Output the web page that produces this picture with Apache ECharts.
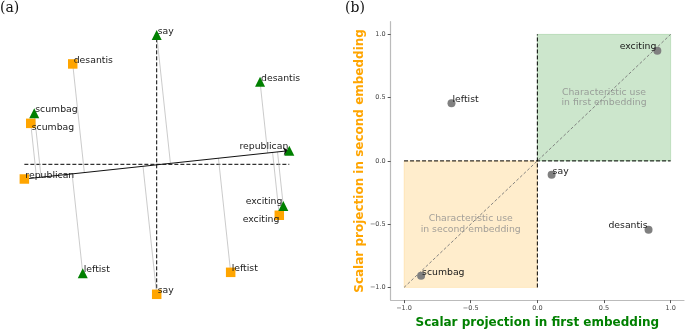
<!DOCTYPE html>
<html>
<head>
<meta charset="utf-8">
<script src="https://cdn.jsdelivr.net/npm/echarts@6/dist/echarts.min.js"></script>
<style>
  html, body { margin: 0; padding: 0; background: #fff; }
  #chart { width: 685px; height: 334px; }
</style>
</head>
<body>
<div id="chart"></div>
<script>
// panel (a): words in both embeddings (2D view)
const wordsA = ['say', 'desantis', 'scumbag', 'republican', 'exciting', 'leftist'];
const firstX = [0.0, 0.795, -0.942, 1.02, 0.974, -0.569];
const firstY = [0.995, 0.635, 0.392, 0.105, -0.321, -0.838];
const secondX = [0.0, -0.646, -0.969, -1.018, 0.943, 0.569];
const secondY = [-1.0, 0.772, 0.315, -0.113, -0.392, -0.831];

// panel (b): scalar projections
const wordsB = ['exciting', 'leftist', 'say', 'desantis', 'scumbag'];
const projFirst = [0.90, -0.644, 0.107, 0.834, -0.872];
const projSecond = [0.87, 0.456, -0.11, -0.544, -0.908];
const tickValues = [-1.0, -0.5, 0.0, 0.5, 1.0];
const regionNotes = ['Characteristic use\nin first embedding', 'Characteristic use\nin second embedding'];

const FONT = 'DejaVu Sans';
const GREEN = '#008000';
const ORANGE = '#ffa500';

// label placement (anchor at the marker centre)
const placeFirst = { republican: 'right', exciting: 'right' };
const placeSecond = { scumbag: 'below', exciting: 'rightBelow' };
const placeB = { exciting: 'right', desantis: 'right' };

function labelFor(kind) {
  const base = { show: true, position: 'inside', formatter: '{b}', fontFamily: FONT, fontSize: 9.3, color: '#1a1a1a' };
  if (kind === 'right') return Object.assign(base, { align: 'right', verticalAlign: 'bottom', offset: [-1, 0] });
  if (kind === 'below') return Object.assign(base, { align: 'left', verticalAlign: 'top', offset: [1, 0] });
  if (kind === 'rightBelow') return Object.assign(base, { align: 'right', verticalAlign: 'top', offset: [0, 0] });
  return Object.assign(base, { align: 'left', verticalAlign: 'bottom', offset: [1, 1] });
}

function pointsOf(words, xs, ys, place) {
  return words.map((w, i) => ({ name: w, value: [xs[i], ys[i]], label: labelFor(place[w]) }));
}

// projection of every point on the line through the two "republican" points
const ri = wordsA.indexOf('republican');
const A = [secondX[ri], secondY[ri]];
const B = [firstX[ri], firstY[ri]];
const dx = B[0] - A[0], dy = B[1] - A[1];
function foot(p) {
  const t = ((p[0] - A[0]) * dx + (p[1] - A[1]) * dy) / (dx * dx + dy * dy);
  return [A[0] + t * dx, A[1] + t * dy];
}
const projLines = [];
wordsA.forEach((w, i) => {
  if (i === ri) return;
  const p1 = [firstX[i], firstY[i]];
  const p2 = [secondX[i], secondY[i]];
  projLines.push({ coords: [p1, foot(p1)] });
  projLines.push({ coords: [p2, foot(p2)] });
});

const allX = firstX.concat(secondX), allY = firstY.concat(secondY);
const xMinA = Math.min(...allX), xMaxA = Math.max(...allX);
const yMinA = Math.min(...allY), yMaxA = Math.max(...allY);

const fmt = v => v.toFixed(1).replace('-', '\u2212');

const chart = echarts.init(document.getElementById('chart'));
chart.setOption({
  animation: false,
  backgroundColor: '#fff',
  graphic: [
    { type: 'text', left: 0, top: 1, style: { text: '(a)', font: '14px "DejaVu Serif"', fill: '#111' } },
    { type: 'text', left: 345, top: 1, style: { text: '(b)', font: '14px "DejaVu Serif"', fill: '#111' } }
  ],
  grid: [
    { left: 13.7, top: 21.3, width: 286, height: 286 },
    { left: 390.7, top: 21.7, width: 293.3, height: 285 }
  ],
  xAxis: [
    { gridIndex: 0, type: 'value', min: -1.1, max: 1.1, show: false },
    {
      gridIndex: 1, type: 'value', min: -1.1, max: 1.1,
      name: 'Scalar projection in first embedding', nameLocation: 'middle', nameGap: 15,
      nameTextStyle: { color: GREEN, fontWeight: 'bold', fontSize: 12, fontFamily: FONT },
      axisLine: { show: true, onZero: false, lineStyle: { color: '#bbb', width: 1.2 } },
      axisTick: { show: true, length: 3, customValues: tickValues, lineStyle: { color: '#555' } },
      axisLabel: { customValues: tickValues, formatter: fmt, fontSize: 6.5, color: '#444', fontFamily: FONT, margin: 5 },
      splitLine: { show: false }
    }
  ],
  yAxis: [
    { gridIndex: 0, type: 'value', min: -1.1, max: 1.1, show: false },
    {
      gridIndex: 1, type: 'value', min: -1.1, max: 1.1,
      name: 'Scalar projection in second embedding', nameLocation: 'middle', nameGap: 24,
      nameTextStyle: { color: ORANGE, fontWeight: 'bold', fontSize: 12, fontFamily: FONT },
      axisLine: { show: true, onZero: false, lineStyle: { color: '#bbb', width: 1.2 } },
      axisTick: { show: true, length: 3, customValues: tickValues, lineStyle: { color: '#555' } },
      axisLabel: { customValues: tickValues, formatter: fmt, fontSize: 6.5, color: '#444', fontFamily: FONT, margin: 5 },
      splitLine: { show: false }
    }
  ],
  series: [
    // ---------- panel (a)
    {
      type: 'line', xAxisIndex: 0, yAxisIndex: 0, symbol: 'none', z: 1,
      lineStyle: { color: '#000', width: 1, type: [4, 2] },
      data: [[xMinA, 0], [xMaxA, 0], '-', [0, yMinA], [0, yMaxA]]
    },
    {
      type: 'lines', coordinateSystem: 'cartesian2d', xAxisIndex: 0, yAxisIndex: 0, z: 2,
      lineStyle: { color: '#b5b5b5', width: 0.7, opacity: 1 },
      data: projLines
    },
    {
      type: 'lines', coordinateSystem: 'cartesian2d', xAxisIndex: 0, yAxisIndex: 0, z: 3,
      symbol: ['none', 'arrow'], symbolSize: 6,
      lineStyle: { color: '#111', width: 1, opacity: 1 },
      data: [{ coords: [A, B] }]
    },
    {
      type: 'scatter', xAxisIndex: 0, yAxisIndex: 0, z: 5,
      symbol: 'rect', symbolSize: 9.5, itemStyle: { color: ORANGE, opacity: 1 },
      data: pointsOf(wordsA, secondX, secondY, placeSecond)
    },
    {
      type: 'scatter', xAxisIndex: 0, yAxisIndex: 0, z: 5,
      symbol: 'triangle', symbolSize: 10, itemStyle: { color: GREEN, opacity: 1 },
      data: pointsOf(wordsA, firstX, firstY, placeFirst)
    },
    // ---------- panel (b)
    {
      type: 'line', xAxisIndex: 1, yAxisIndex: 1, symbol: 'none', z: 2,
      lineStyle: { color: '#000', width: 1, type: [4, 2] },
      data: [[-1, 0], [1, 0], '-', [0, -1], [0, 1]],
      markArea: {
        silent: true,
        data: [
          [{ coord: [0, 0], itemStyle: { color: 'rgba(0,128,0,0.2)', borderColor: 'rgba(0,128,0,0.15)', borderWidth: 1 } }, { coord: [1, 1] }],
          [{ coord: [-1, -1], itemStyle: { color: 'rgba(255,165,0,0.2)', borderColor: 'rgba(255,165,0,0.15)', borderWidth: 1 } }, { coord: [0, 0] }]
        ]
      }
    },
    {
      type: 'line', xAxisIndex: 1, yAxisIndex: 1, symbol: 'none', z: 2,
      lineStyle: { color: '#777', width: 0.9, type: [3, 2] },
      data: [[-1, -1], [1, 1]]
    },
    {
      type: 'scatter', xAxisIndex: 1, yAxisIndex: 1, z: 3, symbolSize: 0,
      label: {
        show: true, position: 'inside', formatter: p => p.data[2],
        fontFamily: FONT, fontSize: 9.3, lineHeight: 10.5, color: '#8c8c8c', align: 'center'
      },
      data: [[0.5, 0.5, regionNotes[0]], [-0.5, -0.5, regionNotes[1]]]
    },
    {
      type: 'scatter', xAxisIndex: 1, yAxisIndex: 1, z: 5,
      symbol: 'circle', symbolSize: 8, itemStyle: { color: '#808080', opacity: 1 },
      data: pointsOf(wordsB, projFirst, projSecond, placeB)
    }
  ]
});
</script>
</body>
</html>
